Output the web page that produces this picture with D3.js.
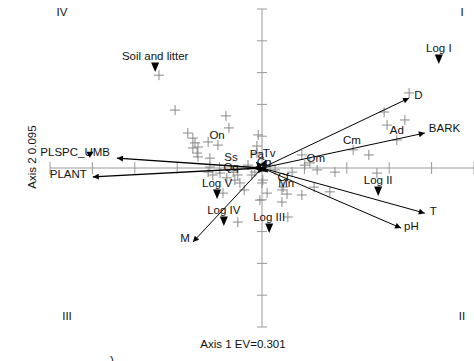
<!DOCTYPE html>
<html lang="en">
<head>
<meta charset="UTF-8">
<title>ordination biplot</title>
<script src="https://cdn.jsdelivr.net/npm/d3@7"></script>
<style>
  body { margin: 0; background: #fff; }
  text { font-family: "Liberation Sans", Arial, sans-serif; font-size: 11.5px; fill: #111; }
</style>
</head>
<body>
<div id="root"></div>
<script>
var width = 474
var height = 361

// axis ticks (both axes run -5..5)
var xTicks = [-5, -4, -3, -2, -1, 1, 2, 3, 4, 5]
var yTicks = [-5, -4, -3, -2, -1, 1, 2, 3, 4, 5]

// environmental vectors (arrow tips, axis units)
var vecNames = ['D', 'BARK', 'T', 'pH', 'M', 'PLSPC_UMB', 'PLANT']
var vecX = [3.47, 3.84, 3.84, 3.28, -1.63, -3.42, -3.99]
var vecY = [2.20, 1.10, -1.42, -1.89, -2.33, 0.31, -0.28]

// short species vectors bunched at the origin
var shortX = [-0.14, 0.09, -0.09, 0.14, -0.21, 0.05]
var shortY = [0.19, 0.25, -0.16, -0.13, 0.0, 0.05]

// species labels
var spNames = ['On', 'Ss', 'Qq', 'Pa', 'Tv', 'Cp', 'Om', 'Cm', 'Ad', 'Cf', 'Mn']
var spX = [-1.06, -0.73, -0.73, -0.12, 0.17, 0.05, 1.27, 2.12, 3.18, 0.50, 0.57]
var spY = [1.04, 0.35, 0.03, 0.44, 0.47, 0.19, 0.31, 0.88, 1.20, -0.28, -0.47]

// group centroids (triangles)
var grpNames = ['Soil and litter', 'Log I', 'Log II', 'Log III', 'Log IV', 'Log V']
var grpX = [-2.52, 4.17, 2.74, 0.17, -0.90, -1.06]
var grpY = [3.18, 3.43, -0.72, -1.89, -1.67, -0.82]

// sample scores (+)
var sampX = [-2.43, -2.05, -0.85, -0.78, -1.75, -1.63, -1.58, -1.63, -1.51, -1.27,
             -1.04, -1.53, -1.51, -1.23, -0.09, -0.12, -1.23, -1.27, -1.16, -0.99,
             -0.68, -0.57, -0.64, -0.83, -0.52, -0.24, 0.00, 0.12, -0.05, 0.47,
             -0.57, 0.61, 0.47, 0.59, 0.94, 1.23, 1.60, -0.42, -0.92, 3.47,
             2.88, 2.95, 3.37, 3.18, 2.15, 2.52, -0.12, 0.94, 0.71, 1.13,
             1.30, 1.72, 2.71, 0.02, 0.50, 0.19, -0.17, -0.33, 0.31, 1.01]
var sampY = [2.92, 1.82, 1.64, 1.26, 1.10, 0.94, 0.79, 0.63, 0.66, 0.82,
             0.72, 0.47, 0.35, 0.31, 1.04, 0.47, 0.03, -0.13, -0.22, -0.16,
             -0.13, -0.22, -0.38, -0.31, -0.47, -0.22, -0.47, -0.79, -1.01, -1.07,
             -1.70, -1.54, -0.69, -0.82, -0.85, -0.60, -0.75, -0.69, -0.79, 2.36,
             1.76, 1.35, 1.51, 0.88, 0.57, 0.41, 0.69, 0.41, -0.13, 0.16,
             -0.06, -0.13, -0.16, -0.38, -0.60, 0.09, -0.13, 0.09, -0.06, 0.09]

var quadrants = ['I', 'II', 'III', 'IV']

var x = d3.scaleLinear().domain([-5, 5]).range([50, 474])
var y = d3.scaleLinear().domain([-5, 5]).range([327, 9])

var svg = d3.select('#root')
            .append('svg')
            .attr('width', width)
            .attr('height', height)

svg.append('defs').append('marker')
    .attr('id', 'head')
    .attr('viewBox', '0 0 10 10')
    .attr('refX', 10).attr('refY', 5)
    .attr('markerWidth', 9).attr('markerHeight', 6)
    .attr('markerUnits', 'userSpaceOnUse')
    .attr('orient', 'auto')
    .append('path')
        .attr('d', 'M0,0 L10,5 L0,10 z')
        .attr('fill', '#000')

// axes through the origin, gray
var axisColor = '#9a9a9a'
svg.append('line')
    .attr('x1', x(-5)).attr('x2', x(5))
    .attr('y1', y(0)).attr('y2', y(0))
    .attr('stroke', axisColor)
svg.append('line')
    .attr('x1', x(0)).attr('x2', x(0))
    .attr('y1', y(5)).attr('y2', y(-5))
    .attr('stroke', axisColor)

svg.selectAll('.xt').data(xTicks).enter().append('line')
    .attr('x1', function(d){ return x(d) }).attr('x2', function(d){ return x(d) })
    .attr('y1', y(0) - 6).attr('y2', y(0) + 6)
    .attr('stroke', axisColor)
svg.selectAll('.yt').data(yTicks).enter().append('line')
    .attr('y1', function(d){ return y(d) }).attr('y2', function(d){ return y(d) })
    .attr('x1', x(0) - 5).attr('x2', x(0) + 5)
    .attr('stroke', axisColor)

// sample crosses
var samples = sampX.map(function(v, i){ return {x: v, y: sampY[i]} })
svg.selectAll('.pt').data(samples).enter().append('path')
    .attr('d', function(d){
        var cx = x(d.x), cy = y(d.y)
        return 'M' + (cx - 5) + ',' + cy + 'H' + (cx + 5) + 'M' + cx + ',' + (cy - 5) + 'V' + (cy + 5)
    })
    .attr('stroke', '#8a8a8a')
    .attr('stroke-width', 1)
    .attr('fill', 'none')

// short vectors at the centre
shortX.forEach(function(v, i){
    svg.append('line')
        .attr('x1', x(0)).attr('y1', y(0))
        .attr('x2', x(v)).attr('y2', y(shortY[i]))
        .attr('stroke', '#000')
        .attr('marker-end', 'url(#head)')
})

// environmental vectors
var vecs = vecNames.map(function(n, i){ return {name: n, x: vecX[i], y: vecY[i]} })
svg.selectAll('.vec').data(vecs).enter().append('line')
    .attr('x1', x(0)).attr('y1', y(0))
    .attr('x2', function(d){ return x(d.x) })
    .attr('y2', function(d){ return y(d.y) })
    .attr('stroke', '#000')
    .attr('stroke-width', function(d){ return d.x < -3 ? 1.4 : 1 })
    .attr('marker-end', 'url(#head)')

// label offsets per vector (pixels)
var vecDx = [5, 4, 5, 3, -3, -7, -6]
var vecDy = [-3, -5, -2, -2, -4, -6, -3]
svg.selectAll('.vlab').data(vecs).enter().append('text')
    .attr('x', function(d, i){ return x(d.x) + vecDx[i] })
    .attr('y', function(d, i){ return y(d.y) + vecDy[i] })
    .attr('dy', '0.35em')
    .attr('text-anchor', function(d){ return d.x < 0 ? 'end' : 'start' })
    .text(function(d){ return d.name })

// small black mark on PLSPC_UMB
svg.append('path')
    .attr('d', d3.symbol().type(d3.symbolTriangle).size(22)())
    .attr('transform', 'translate(' + x(-4.06) + ',' + y(0.45) + ') rotate(180)')
    .attr('fill', '#000')

// species labels
svg.selectAll('.sp').data(spNames).enter().append('text')
    .attr('x', function(d, i){ return x(spX[i]) })
    .attr('y', function(d, i){ return y(spY[i]) })
    .attr('dy', '0.35em')
    .attr('text-anchor', 'middle')
    .text(function(d){ return d })

// group centroids
var groups = grpNames.map(function(n, i){ return {name: n, x: grpX[i], y: grpY[i]} })
svg.selectAll('.tri').data(groups).enter().append('path')
    .attr('d', function(d){
        var cx = x(d.x), cy = y(d.y)
        return 'M' + (cx - 4) + ',' + (cy - 4.5) + 'L' + (cx + 4) + ',' + (cy - 4.5) + 'L' + cx + ',' + (cy + 5) + 'z'
    })
    .attr('fill', '#000')
svg.selectAll('.glab').data(groups).enter().append('text')
    .attr('x', function(d){ return x(d.x) })
    .attr('y', function(d){ return y(d.y) - 11 })
    .attr('dy', '0.35em')
    .attr('text-anchor', 'middle')
    .text(function(d){ return d.name })

// quadrant numerals
var quadX = [462, 462, 67, 62]
var quadY = [12, 316, 316, 12]
svg.selectAll('.q').data(quadrants).enter().append('text')
    .attr('x', function(d, i){ return quadX[i] })
    .attr('y', function(d, i){ return quadY[i] })
    .attr('dy', '0.35em')
    .attr('text-anchor', 'middle')
    .text(function(d){ return d })

// axis titles
svg.append('text')
    .attr('x', 243).attr('y', 344)
    .attr('dy', '0.35em')
    .attr('text-anchor', 'middle')
    .text('Axis 1 EV=0.301')
svg.append('text')
    .attr('transform', 'translate(32,157) rotate(-90)')
    .attr('dy', '0.35em')
    .attr('text-anchor', 'middle')
    .text('Axis 2 0.095')

svg.append('text')
    .attr('x', 110).attr('y', 364)
    .text(')')
</script>
</body>
</html>
